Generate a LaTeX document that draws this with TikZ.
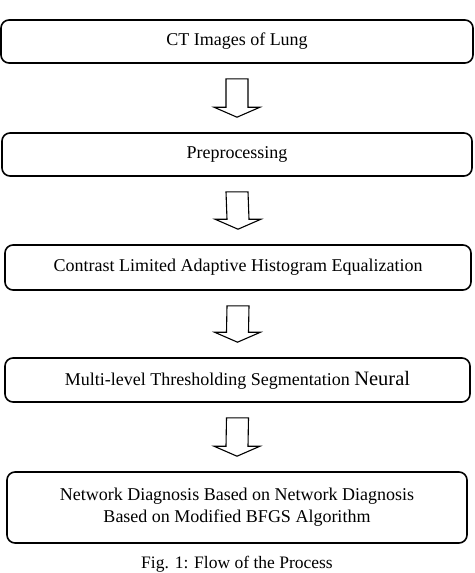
\documentclass[tikz,border=0pt]{standalone}
\usepackage{fontspec}
\setmainfont{Liberation Serif}
\usetikzlibrary{calc,positioning}

% hollow block arrow between two boxes
\newcommand{\flowarrow}[2]{%
  \path (#1.south) ++(0,15) coordinate (atop);
  \path (#2.north) ++(0,-15) coordinate (atip);
  \draw[blockarrow] ($(atop)+(-11,0)$) -- ($(atip)+(-11,-10)$) -- ($(atip)+(-23,-10)$)
    -- (atip) -- ($(atip)+(23,-10)$) -- ($(atip)+(11,-10)$) -- ($(atop)+(11,0)$) -- cycle;
}

\begin{document}
\begin{tikzpicture}[x=1pt, y=-1pt,
    stepbox/.style={draw, line width=1.6pt, rounded corners=8pt, align=center,
      font=\fontsize{18}{22}\selectfont, inner sep=0pt},
    blockarrow/.style={draw, line width=1.1pt, line join=miter}]
  \useasboundingbox (0,0) rectangle (474,573);
  \clip (0,0) rectangle (474,573);

  \node[stepbox, minimum width=472, minimum height=43] (lung) at (237,41.5) {CT Images of Lung};
  \node[stepbox, minimum width=470, minimum height=43] (prep) at (237,154.5) {Preprocessing};
  \node[stepbox, minimum width=466, minimum height=45] (clahe) at (238,267.5)
    {Contrast Limited Adaptive Histogram Equalization};
  \node[stepbox, minimum width=465, minimum height=44] (seg) at (237.5,380)
    {Multi-level Thresholding Segmentation {\fontsize{20.5}{22}\selectfont Neural}};
  \node[stepbox, minimum width=460, minimum height=71] (bfgs) at (237,507.5)
    {Network Diagnosis Based on Network Diagnosis\\Based on Modified BFGS Algorithm};

  \flowarrow{lung}{prep}
  \flowarrow{prep}{clahe}
  \flowarrow{clahe}{seg}
  \flowarrow{seg}{bfgs}

  \node[anchor=base, font=\fontsize{17.5}{21}\selectfont, inner sep=0pt] (caption) at (237,568)
    {Fig. 1: Flow of the Process};
\end{tikzpicture}
\end{document}
